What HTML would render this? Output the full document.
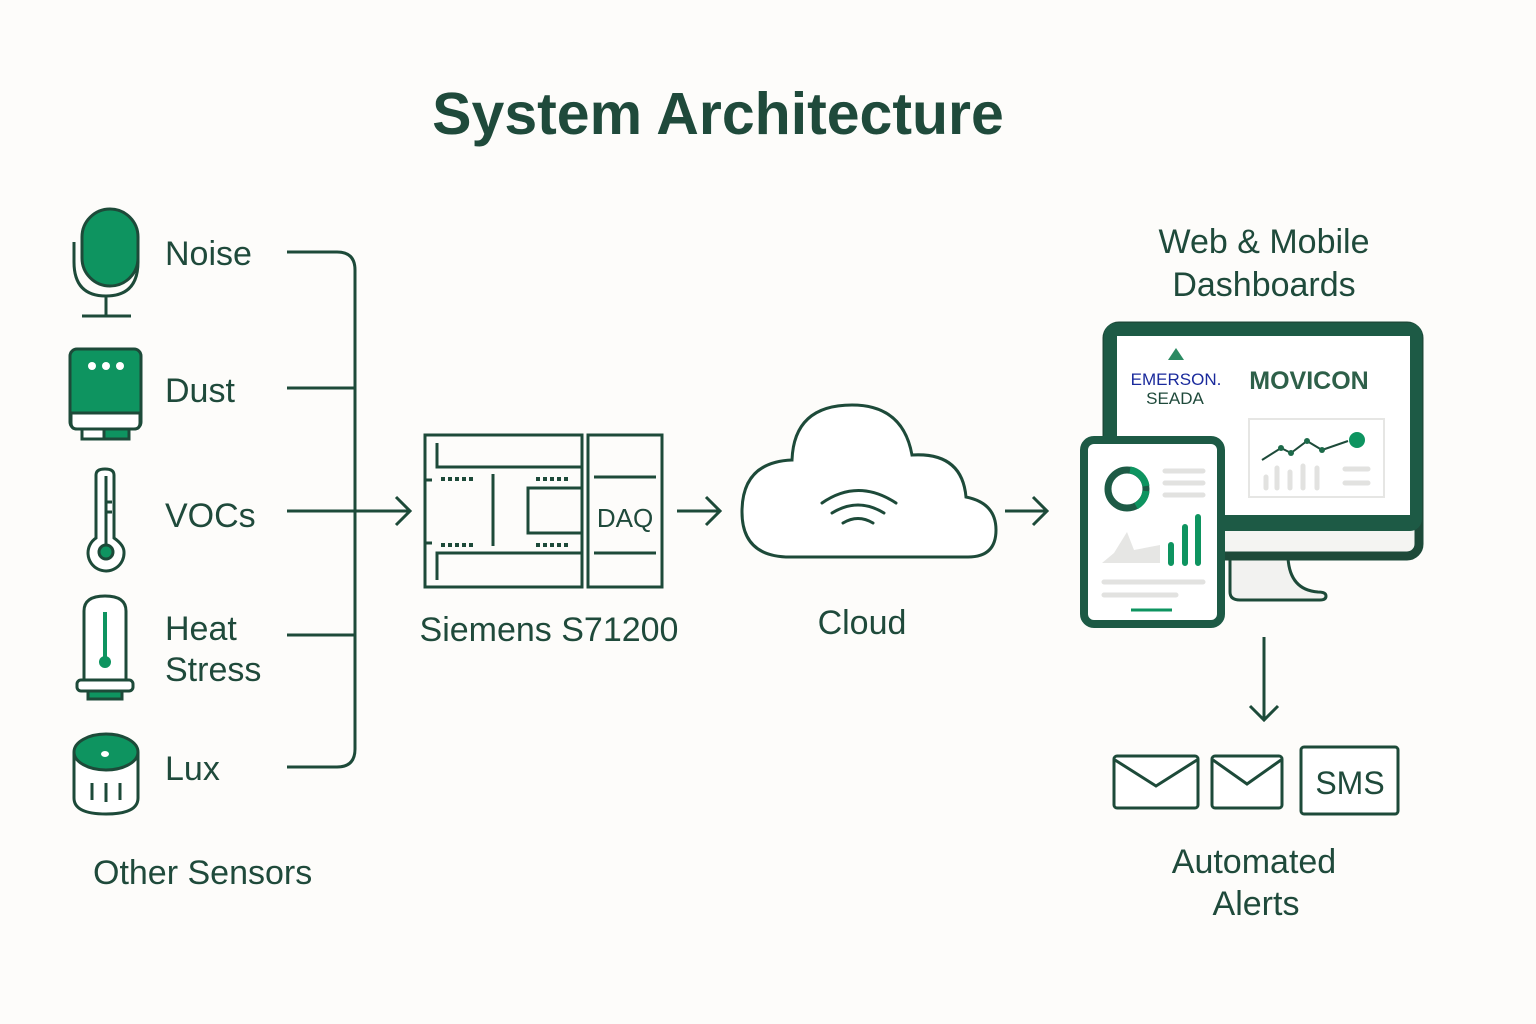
<!DOCTYPE html>
<html><head><meta charset="utf-8"><style>
html,body{margin:0;padding:0;background:#fdfcfa;}
svg{display:block}
text{font-family:"Liberation Sans","DejaVu Sans",sans-serif;fill:#1f4a3b}
</style></head><body>
<svg width="1536" height="1024" viewBox="0 0 1536 1024" xmlns="http://www.w3.org/2000/svg">
<rect width="1536" height="1024" fill="#fdfcfa"/>
<text x="718" y="134" font-size="59" font-weight="bold" text-anchor="middle">System Architecture</text>

<g stroke="#1d4a39" stroke-width="3" fill="none">
<path d="M287 252 H337 Q355 252 355 270 V749 Q355 767 337 767 H287"/>
<path d="M287 388 H355 M287 511 H410 M287 635 H355"/>
<path d="M396 497 L410 511 L396 525"/>
<path d="M677 511 H720 M706 497 L720 511 L706 525"/>
<path d="M1005 511 H1047 M1033 497 L1047 511 L1033 525"/>
<path d="M1264 637 V720 M1250 706 L1264 720 L1278 706"/>
</g>

<g font-size="34">
<text x="165" y="265">Noise</text>
<text x="165" y="402">Dust</text>
<text x="165" y="527">VOCs</text>
<text x="165" y="640">Heat</text>
<text x="165" y="681">Stress</text>
<text x="165" y="780">Lux</text>
<text x="93" y="884">Other Sensors</text>
<text x="549" y="641" text-anchor="middle">Siemens S71200</text>
<text x="862" y="634" text-anchor="middle">Cloud</text>
<text x="1264" y="253" text-anchor="middle">Web &amp; Mobile</text>
<text x="1264" y="296" text-anchor="middle">Dashboards</text>
<text x="1254" y="873" text-anchor="middle">Automated</text>
<text x="1256" y="915" text-anchor="middle">Alerts</text>
</g>

<g stroke="#1d4a39" stroke-width="3">
<rect x="82" y="209" width="56" height="77" rx="28" fill="#0e9460"/>
<path d="M74 242 V262 Q74 296 106 296 Q138 296 138 262 V242 M106 296 V316 M82 316 H131" fill="none"/>
<rect x="70" y="349" width="71" height="80" rx="7" fill="#0e9460"/>
<path d="M71 413 H140 V423 Q140 429 134 429 H77 Q71 429 71 423 Z" fill="#fff"/>
<rect x="82" y="429" width="47" height="10" fill="#0e9460"/>
<rect x="82" y="429" width="22" height="10" fill="#fff"/>
<path d="M96 475 Q96 469 105 469 Q114 469 114 475 V538 Q124 545 124 552 A18 18 0 1 1 96 538 Z" fill="#fff"/>
<circle cx="106" cy="552" r="7" fill="#0e9460"/>
<path d="M106 476 V545 M106 502 H112 M106 512 H112" fill="none"/>
<path d="M84 680 V611 Q84 596 105 596 Q126 596 126 611 V680" fill="#fff"/>
<rect x="77" y="680" width="56" height="11" rx="4" fill="#fff"/>
<rect x="88" y="691" width="34" height="8" fill="#0e9460"/>
</g>
<path d="M105 612 V660" stroke="#0e9460" stroke-width="4"/>
<circle cx="105" cy="662" r="6" fill="#0e9460"/>
<g stroke="#1d4a39" stroke-width="3">
<path d="M74 752 V798 Q74 814 106 814 Q138 814 138 798 V752" fill="#fff"/>
<ellipse cx="106" cy="752" rx="32" ry="18" fill="#0e9460"/>
<path d="M92 783 V800 M106 783 V802 M120 783 V800" fill="none"/>
</g>
<ellipse cx="105" cy="754" rx="4" ry="3" fill="#fff"/>
<g fill="#fff"><circle cx="92" cy="366" r="4"/><circle cx="106" cy="366" r="4"/><circle cx="120" cy="366" r="4"/></g>

<g stroke="#1d4a39" stroke-width="3" fill="none">
<rect x="425" y="435" width="157" height="152"/>
<rect x="588" y="435" width="74" height="152"/>
<path d="M437 443 V467 H582 M437 580 V553 H582 M493 474 V546 M582 488 H528 V533 H582 M594 477 H656 M594 553 H656 M426 480 H432 M426 543 H432"/>
<path d="M441 479 H476 M536 479 H571 M441 545 H476 M536 545 H571" stroke-dasharray="4 3" stroke-width="4"/>
</g>
<text x="625" y="527" font-size="26" text-anchor="middle">DAQ</text>

<path d="M790 557 Q742 557 742 512 Q742 462 792 460 Q794 405 852 405 Q903 405 912 455 Q962 452 966 497 Q996 503 996 530 Q996 557 968 557 Z" fill="#fff" stroke="#1d4a39" stroke-width="3"/>
<g stroke="#1d4a39" stroke-width="3" fill="none" stroke-linecap="round">
<path d="M822 503 Q858 478 896 503"/>
<path d="M832 513 Q858 497 884 513"/>
<path d="M843 523 Q858 514 873 523"/>
</g>

<path d="M1230 558 L1230 592 Q1230 600 1240 600 H1320 Q1326 600 1326 596 Q1326 592 1318 592 Q1290 590 1288 558" fill="#f2f2f0" stroke="#1d4a39" stroke-width="3"/>
<rect x="1107" y="326" width="312" height="230" rx="12" fill="#f4f4f2" stroke="#1d4a39" stroke-width="9"/>
<rect x="1104" y="323" width="318" height="208" rx="12" fill="#1d5a45"/>
<rect x="1117" y="336" width="293" height="179" fill="#fff"/>
<path d="M1168 360 L1176 348 L1184 360 Z" fill="#2b8a62"/>
<text x="1176" y="385" font-size="17" text-anchor="middle" style="fill:#1a2a9c">EMERSON.</text>
<text x="1175" y="404" font-size="17" text-anchor="middle">SEADA</text>
<text x="1309" y="389" font-size="25" font-weight="bold" text-anchor="middle" style="fill:#2e6049">MOVICON</text>
<rect x="1249" y="419" width="135" height="78" fill="none" stroke="#e6e6e4" stroke-width="2"/>
<path d="M1262 460 L1281 448 L1291 453 L1307 441 L1322 450 L1348 441" stroke="#1d4a39" stroke-width="2" fill="none"/>
<g fill="#1d6a4a"><circle cx="1281" cy="448" r="3"/><circle cx="1291" cy="453" r="3"/><circle cx="1307" cy="441" r="3"/><circle cx="1322" cy="450" r="3"/></g>
<circle cx="1357" cy="440" r="8" fill="#0e9460"/>
<g stroke="#e2e2e0" stroke-width="5" stroke-linecap="round">
<path d="M1266 477 V488 M1277 468 V488 M1290 472 V488 M1303 466 V488 M1317 468 V488 M1345 469 H1368 M1345 483 H1368"/>
</g>

<rect x="1084" y="440" width="137" height="184" rx="10" fill="#fff" stroke="#1d5a45" stroke-width="8"/>
<circle cx="1127" cy="489" r="19" fill="none" stroke="#1d5a45" stroke-width="7"/>
<path d="M1130 470 A19 19 0 0 1 1146 486" stroke="#0e9460" stroke-width="7" fill="none"/>
<path d="M1146 491 A19 19 0 0 1 1136 506" stroke="#0e9460" stroke-width="7" fill="none"/>
<g stroke="#e2e2e0" stroke-width="5" stroke-linecap="round">
<path d="M1165 471 H1203 M1165 483 H1203 M1165 495 H1203 M1104 582 H1203 M1104 595 H1176"/>
</g>
<path d="M1102 563 L1114 553 L1127 532 L1134 550 L1160 545 L1160 563 Z" fill="#e6e6e4"/>
<g stroke="#0e9460" stroke-width="6" stroke-linecap="round">
<path d="M1171 545 V563 M1185 527 V563 M1198 517 V563"/>
</g>
<path d="M1131 610 H1172" stroke="#0e9460" stroke-width="3"/>

<g stroke="#1d4a39" stroke-width="3" fill="#fff">
<rect x="1114" y="756" width="84" height="52" rx="3"/>
<path d="M1115 760 L1156 786 L1197 760" fill="none"/>
<rect x="1212" y="756" width="70" height="52" rx="3"/>
<path d="M1213 760 L1247 784 L1281 760" fill="none"/>
<rect x="1301" y="747" width="97" height="67" rx="3"/>
</g>
<text x="1350" y="794" font-size="32" text-anchor="middle">SMS</text>
</svg>
</body></html>
